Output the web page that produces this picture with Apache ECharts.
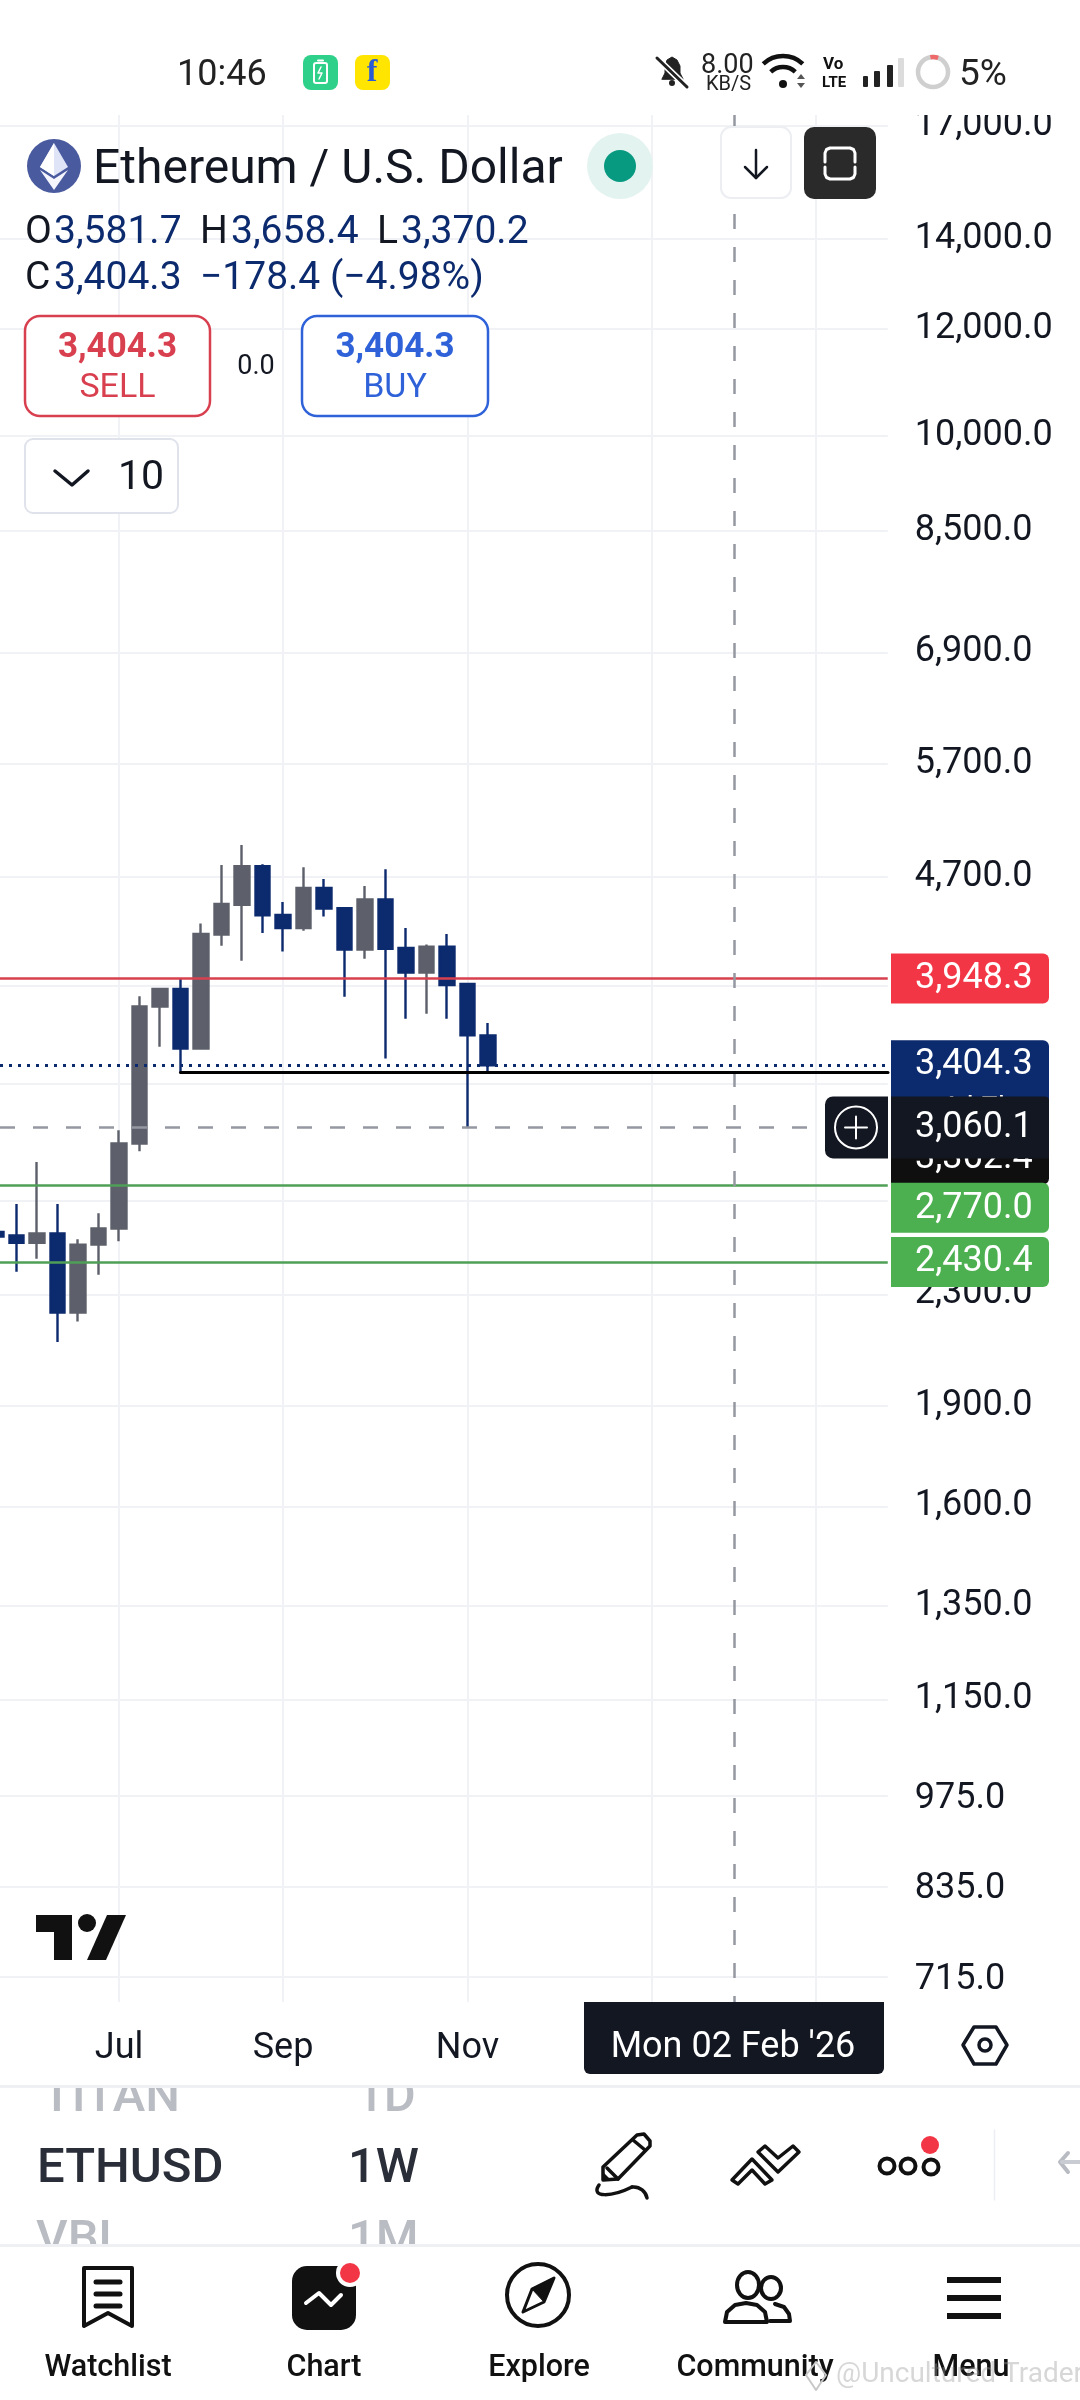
<!DOCTYPE html>
<html>
<head>
<meta charset="utf-8">
<style>html,body{margin:0;padding:0;background:#fff}#c{width:1080px;height:2400px}</style>
<script src="https://cdn.jsdelivr.net/npm/echarts@6/dist/echarts.min.js"></script>
</head>
<body>
<div id="c"></div>
<script>
const categories = ['26 May','2 Jun','9 Jun','16 Jun','23 Jun','30 Jun','7 Jul','14 Jul','21 Jul','28 Jul','4 Aug','11 Aug','18 Aug','25 Aug','1 Sep','8 Sep','15 Sep','22 Sep','29 Sep','6 Oct','13 Oct','20 Oct','27 Oct','3 Nov','10 Nov','17 Nov','24 Nov','1 Dec','8 Dec','15 Dec','22 Dec','29 Dec','5 Jan','12 Jan','19 Jan','26 Jan','2 Feb','9 Feb','16 Feb','23 Feb','2 Mar','9 Mar','16 Mar','23 Mar'];
const opens  = [2559,2544,2512,2552,2229,2504,2574,2977,3764,3879,3502,4257,4480,4786,4402,4305,4611,4454,4150,4521,4160,3990,4169,3912,3581.7];
const closes = [2539,2512,2552,2229,2504,2574,2977,3764,3879,3502,4262,4486,4786,4399,4305,4611,4451,4150,4521,4155,3990,4169,3904,3582.7,3404.3];
const lows   = [2539,2390,2444,2120,2195,2378,2519,2938,3514,3361,3502,4177,4071,4268,4136,4285,4390,3828,4085,3443,3686,3717,3686,3060.1,3370.2];
const highs  = [2559,2684,2885,2684,2527,2642,3046,3831,3881,3945,4338,4796,4962,4802,4501,4777,4681,4460,4626,4761,4305,4185,4262,3915,3658.4];
const priceTicks = [17000,14000,12000,10000,8500,6900,5700,4700,3900,3300,2700,2300,1900,1600,1350,1150,975,835,715];
const gridDates = ['7 Jul','1 Sep','3 Nov','5 Jan','2 Mar'];
const redLevel = 3948.3, greenLevels = [2770.0, 2430.4], lastPrice = 3404.3, supportLevel = 3362.4, crossPrice = 3060.1;
const supportStart = '28 Jul', crossDate = '2 Feb';

const NAVY = '#0c2a6e', GREY = '#5d606b', INK = '#131722', FONT = 'Roboto';
const fmt = v => Number(v).toLocaleString('en-US', {minimumFractionDigits:1, maximumFractionDigits:1});
const gridFn = i => gridDates.includes(categories[i]);

const chart = echarts.init(document.getElementById('c'), null, {renderer:'canvas', width:1080, height:2400});
const yMax = 17310, yMin = 685;
const hline = (v, color, width, type, offset) => ({
  yAxis: v, lineStyle: {color, width, type: type || 'solid', dashOffset: offset || 0}
});
chart.setOption({
  animation: false,
  backgroundColor: '#fff',
  grid: {left: -14.25, top: 115, width: 902, height: 1887, containLabel: false, outerBoundsMode: 'none'},
  xAxis: {
    type: 'category', data: categories, boundaryGap: true,
    axisLine: {show:false}, axisTick: {show:false},
    splitLine: {show:true, interval: gridFn, alignWithLabel:true, lineStyle:{color:'#f0f2f5', width:2}},
    axisLabel: {interval: gridFn, formatter: v => v.split(' ')[1], margin: 29, color: INK, fontFamily: FONT, fontSize: 36, hideOverlap:false}
  },
  yAxis: {
    type: 'log', position: 'right', min: yMin, max: yMax, logBase: 10, scale: true,
    axisLine: {show:false}, axisTick: {show:false, customValues: priceTicks},
    splitLine: {show:true, lineStyle:{color:'#f0f2f5', width:2}},
    minorSplitLine:{show:false},
    axisLabel: {
      customValues: priceTicks,
      formatter: v => v < 1000 ? '{low|' + fmt(v) + '}' : fmt(v),
      rich: {low: {padding:[6,0,0,0], fontSize:36, color:INK, fontFamily:FONT}},
      align:'left', margin: 27, color: INK, fontFamily: FONT, fontSize: 36, hideOverlap:false, showMinLabel:true, showMaxLabel:true
    }
  },
  series: [
    {
      type: 'line', data: [], z: 1, silent: true,
      markLine: {
        silent:true, symbol:'none', animation:false, label:{show:false},
        data: [
          hline(redLevel, '#d9404f', 2.5),
          hline(greenLevels[0], '#4f9f57', 2.5),
          hline(greenLevels[1], '#4f9f57', 2.5)
        ]
      }
    },
    {
      type: 'candlestick', z: 2, barWidth: 14.6,
      data: opens.map((o, i) => [o, closes[i], lows[i], highs[i]]),
      itemStyle: {color: GREY, color0: NAVY, borderColor: GREY, borderColor0: NAVY, borderWidth: 2.4},
      markLine: {
        silent:true, symbol:'none', animation:false, label:{show:false}, z: 5,
        data: [
          hline(lastPrice, NAVY, 3, [3,6], 3.75),
          hline(crossPrice, '#9598a1', 2.5, [15,18], 18.75),
          [{xAxis: crossDate, yAxis: yMax, lineStyle:{color:'#9598a1', width:2.5, type:[15,18]}}, {xAxis: crossDate, yAxis: yMin}]
        ]
      }
    }
  ]
});

/* ---- app chrome ---- */
const els = []; let zi = 20;
const add = e => { e.z = zi++; e.silent = true; els.push(e); return e; };
const T = (text, x, y, size, fill, o) => { o=o||{}; add({type:'text', x, y: y + (o.dy==null?6:o.dy), style:{text, fill: fill||INK, font:`${o.w||400} ${size}px ${o.f||FONT}`, align:o.a||'left', verticalAlign:'middle', opacity:o.op==null?1:o.op}}); };
const R = (x,y,w,h,fill,r,stroke,lw) => add({type:'rect', shape:{x,y,width:w,height:h,r:r||0}, style:{fill:fill||'none', stroke:stroke||null, lineWidth:lw||0}});
const C = (cx,cy,r,fill,stroke,lw) => add({type:'circle', shape:{cx,cy,r}, style:{fill:fill||'none', stroke:stroke||null, lineWidth:lw||0}});
const L = (pts,stroke,lw,close,fill) => add({type: close?'polygon':'polyline', shape:{points:pts}, style:{stroke, lineWidth:lw, fill:fill||'none', lineJoin:'round', lineCap:'round'}});
const B = (x1,y1,cpx1,cpy1,cpx2,cpy2,x2,y2,stroke,lw) => add({type:'bezierCurve', shape:{x1,y1,cpx1,cpy1,cpx2,cpy2,x2,y2}, style:{stroke, lineWidth:lw, fill:'none', lineCap:'round'}});
const A = (cx,cy,r,a0,a1,stroke,lw) => add({type:'arc', shape:{cx,cy,r,startAngle:a0,endAngle:a1,clockwise:true}, style:{stroke, lineWidth:lw, fill:'none', lineCap:'butt'}});

const yAt = v => chart.convertToPixel({yAxisIndex:0}, v);
const xAt = c => chart.convertToPixel({xAxisIndex:0}, c);

/* support line from its anchor candle to the pane edge */
L([[xAt(supportStart), yAt(supportLevel)],[888, yAt(supportLevel)]],'#000',3);

/* watermark logo */
L([[36,1915],[72,1915],[72,1960],[54,1960],[54,1932],[36,1932]], '#111', 0, true, '#111');
C(87,1923,9,'#111');
L([[107,1915],[126,1915],[106,1960],[87,1960]], '#111', 0, true, '#111');

/* price tags */
const tagX = 891, tagW = 158, txtX = 915;
const tagText = (v, s, shift) => T(s, txtX, yAt(v)+shift, 36, '#fff', {dy:0});
R(tagX, yAt(redLevel)-25, tagW, 50, '#f23645', [0,6,6,0]); tagText(redLevel, fmt(redLevel), 0);
R(tagX, yAt(supportLevel)+62, tagW, 50, '#0f0f0f', [0,0,6,0]); tagText(supportLevel, fmt(supportLevel), 87);
R(tagX, yAt(lastPrice)-25, tagW, 94, NAVY, [0,6,0,0]); tagText(lastPrice, fmt(lastPrice), 0);
T('4d 7h', txtX+25, yAt(lastPrice)+44, 30, '#fff', {dy:0});
R(tagX, yAt(crossPrice)-31, tagW, 62, INK, [0,4,0,0]); T(fmt(crossPrice), txtX, yAt(crossPrice), 36, '#fff', {dy:1});
R(825, yAt(crossPrice)-31, 63, 62, INK, [8,0,0,8]);
C(856, yAt(crossPrice), 21, 'none', '#fff', 2);
L([[845,yAt(crossPrice)],[867,yAt(crossPrice)]],'#fff',2);
L([[856,yAt(crossPrice)-11],[856,yAt(crossPrice)+11]],'#fff',2);
R(tagX, yAt(greenLevels[0])-3, tagW, 50, '#4caf50', [0,6,6,0]); T(fmt(greenLevels[0]), txtX, yAt(greenLevels[0])+22, 36, '#fff', {dy:1});
R(tagX, yAt(greenLevels[1])-25, tagW, 50, '#4caf50', [0,6,6,0]); tagText(greenLevels[1], fmt(greenLevels[1]), 0);

/* status bar */
R(0,0,1080,115,'#fff');
T('10:46',177,70,36,'#222');
R(303,55,35,35,'#2fd08a',8);
R(314,63,13,20,'none',2,'#fff',2); L([[318,60.5],[323,60.5]],'#fff',2);
L([[321,67],[318,73],[322,73],[319,79]],'#fff',1.5);
R(355,55,35,35,'#ffe500',8);
T('f',372,67,32,'#2a5bd7',{w:700,a:'center',f:'"Liberation Serif"'});
L([[662,79],[665,73],[665,66],[667,60],[672,57],[677,60],[680,66],[680,73],[683,79]],'#222',1,true,'#222');
C(672,83,3,'#222');
L([[657,58],[687,87]],'#fff',6); L([[657,58],[687,87]],'#222',3);
T('8.00',701,60,27,'#222');
T('KB/S',706,79,20,'#222');
const wa = Math.PI/180;
A(783,85,29,-133*wa,-47*wa,'#111',4.5);
A(783,85,18,-133*wa,-47*wa,'#111',4.5);
C(783,84,4,'#111');
L([[797,79],[805,79],[801,74]],'#555',0,true,'#555');
L([[797,83],[805,83],[801,88]],'#555',0,true,'#555');
T('Vo',823,59,17,'#111',{w:700}); T('LTE',822,77,15,'#111',{w:700});
R(863,76,5,11,'#222',1); R(874,71,6,16,'#222',1); R(887,65,6,22,'#222',1); R(898,58,6,29,'#dcdcdc',1);
C(933,72,15,'none','#cfcfcf',4.5);
A(933,72,15,-100*wa,-70*wa,'#ee6a6a',4.5);
T('5%',959,70,37,'#222');

/* header */
C(54,166,27,'#4a5a9f');
L([[54,143],[68,167],[54,176],[40,167]],'#fff',0,true,'#dfe4f7');
L([[40,170],[54,179],[68,170],[54,190]],'#fff',0,true,'#f5f6fd');
L([[54,143],[54,176],[40,167]],'#fff',0,true,'#ffffff');
T('Ethereum / U.S. Dollar',93,165,48,INK);
C(620,166,33,'#e3f3f0'); C(620,166,16,'#089981');
R(721,127,70,71,'#fff',10,'#eceef2',2);
L([[756,150],[756,178]],INK,2.5); L([[745,167],[756,178],[767,167]],INK,2.5);
R(804,127,72,72,'#2a2a2a',10);
L([[825,162],[825,153],[826.5,149.5],[830,148],[850,148],[853.5,149.5],[855,153],[855,162]],'#fff',3);
L([[825,167],[825,174],[826.5,177.5],[830,179],[850,179],[853.5,177.5],[855,174],[855,167]],'#fff',3);

T('O',25,227,39,INK); T('3,581.7',54,227,39,NAVY);
T('H',200,227,39,INK); T('3,658.4',231,227,39,NAVY);
T('L',377,227,39,INK); T('3,370.2',401,227,39,NAVY);
T('C',25,273,39,INK); T('3,404.3',54,273,39,NAVY);
T('\u2212178.4 (\u22124.98%)',200,273,39,NAVY);

R(25,316,185,100,'#fff',15,'#d9404f',2.5);
T('3,404.3',117.5,342,35,'#d9404f',{w:700,a:'center'});
T('SELL',117.5,382,34,'#d9404f',{a:'center'});
T('0.0',256,361,27,INK,{a:'center'});
R(302,316,186,100,'#fff',15,'#2f62d9',2.5);
T('3,404.3',395,342,35,'#2f62d9',{w:700,a:'center'});
T('BUY',395,382,34,'#2f62d9',{a:'center'});
R(25,439,153,74,'#fff',8,'#e0e3eb',2);
L([[55,471],[72,485],[88,471]],INK,3.5);
T('10',118,473,41,INK);

/* time axis cursor + settings */
R(584,2002,300,72,INK,[0,0,6,6]);
T("Mon 02 Feb '26",733,2042,36,'#fff',{a:'center'});
L([[963,2045],[974,2027],[996,2027],[1007,2045],[996,2064],[974,2064]],INK,3.5,true);
C(985,2045,6,'none',INK,3.5);

/* symbol picker */
T('TITAN',42,2093,49,'#b9bcc2',{w:500}); T('1D',356,2093,49,'#b9bcc2',{w:500});
R(0,2074.5,575,12,'#fff');
R(0,2085,1080,3,'#eef0f3');
T('ETHUSD',37,2164,49,'#2a2e39',{w:500}); T('1W',348,2164,49,'#2a2e39',{w:500});
T('VBL',36,2236,49,'#b9bcc2',{w:500}); T('1M',348,2236,49,'#b9bcc2',{w:500});
R(0,2246,1080,40,'#fff');
R(0,2244,1080,3,'#eef0f3');

/* drawing tools */
L([[603,2167],[637,2135],[644,2134],[650,2141],[650,2146],[618,2179],[603,2180]],'#111',3.5,true);
L([[633,2140],[645,2150]],'#111',3.5); L([[607,2168],[618,2179]],'#111',3.5);
L([[603,2180],[603,2172],[611,2180]],'#111',0,true,'#111');
B(599,2185,590,2198,612,2197,632,2187,'#111',3.5);
B(632,2187,640,2186,646,2192,647,2198,'#111',3.5);
L([[732,2180],[752,2159],[772,2180],[765,2184],[752,2170],[738,2184]],'#111',3.5,true);
L([[758,2152],[765,2146],[778,2158],[793,2146],[799,2152],[778,2172]],'#111',3.5,true);
C(887,2166,7.5,'none','#111',4); C(908,2166,7.5,'none','#111',4); C(931,2167,7.5,'none','#111',4);
C(930,2145,10,'#fff'); C(930,2145,9,'#f23645');
L([[994.5,2130],[994.5,2200]],'#eceef2',1.5);
L([[1068,2153],[1060,2162],[1068,2172]],'#b8bbc2',4); L([[1062,2162],[1080,2162]],'#c9ccd2',4);

/* bottom nav */
L([[84,2268],[132,2268],[132,2326],[108,2313],[84,2326]],'#111',4,true);
L([[96,2282],[120,2282]],'#111',5); L([[96,2294],[120,2294]],'#111',5); L([[96,2306],[120,2306]],'#111',5);
R(292,2266,64,64,'#111',15);
C(350,2273,14,'#fff'); C(350,2273,10,'#f23645');
L([[306,2303],[319,2293],[331,2305],[341,2295]],'#fff',4);
C(538,2295,31,'none','#111',4);
L([[554,2278],[544,2302],[523,2312],[532,2289]],'#111',3,true);
L([[554,2278],[544,2302],[532,2289]],'#111',1,true,'#111');
add({type:'ellipse', shape:{cx:748,cy:2285,rx:11,ry:13}, style:{stroke:'#111',lineWidth:4,fill:'none'}});
add({type:'ellipse', shape:{cx:771,cy:2288,rx:10,ry:11}, style:{stroke:'#111',lineWidth:4,fill:'none'}});
L([[775,2304],[784,2307],[789,2314],[790,2321],[770,2321]],'#111',4);
L([[725,2322],[727,2312],[735,2305],[746,2303],[757,2305],[765,2312],[767,2322]],'#111',4,true,'#fff');
R(947,2277,54,6,'#111'); R(947,2295,54,6,'#111'); R(947,2313,54,6,'#111');
T('Watchlist',108,2362,30.5,'#111',{w:500,a:'center'});
T('Chart',324,2362,30.5,'#111',{w:500,a:'center'});
T('Explore',539,2362,30.5,'#111',{w:500,a:'center'});
T('Community',755,2362,30.5,'#111',{w:500,a:'center'});
T('Menu',971,2362,30.5,'#111',{w:500,a:'center'});
T('@Uncultured Trader',836,2369,28,'#9a9a9a',{op:0.4});
L([[806,2375],[816,2362],[826,2375],[816,2390]],'#c8c8c8',2,true);

chart.setOption({graphic:{elements:els}});
</script>
</body>
</html>
